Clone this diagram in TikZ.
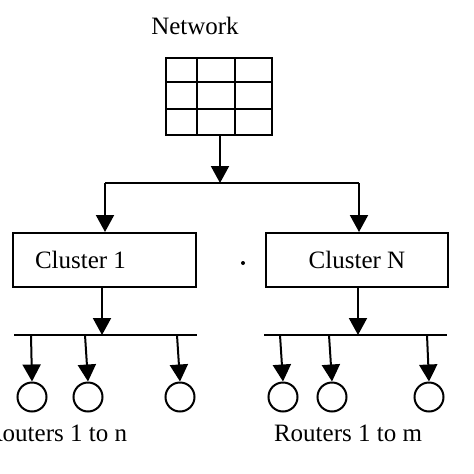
\documentclass[tikz,border=0pt]{standalone}
\usepackage{fontspec}
\setmainfont{Liberation Serif}
\usetikzlibrary{arrows.meta}
\begin{document}
\begin{tikzpicture}[x=1pt,y=-1pt, line width=2pt,
 arr/.style={-{Triangle[width=18pt,length=17pt]}},
 lbl/.style={font=\fontsize{25}{28}\selectfont, inner sep=0pt},
 cbox/.style={draw, minimum height=54pt, inner sep=0pt, font=\fontsize{25}{28}\selectfont},
 router/.style={draw, circle, minimum size=29pt, inner sep=0pt}]
\useasboundingbox (0,0) rectangle (474,474);
% network grid
\node[lbl] (net) at (195,26) {Network};
\node[draw, minimum width=106pt, minimum height=77pt, inner sep=0pt, anchor=north west] (grid) at (165,57) {};
\draw (197,57) -- (197,134) (235,57) -- (235,134) (165,82) -- (271,82) (165,109) -- (271,109);
% split to clusters
\coordinate (split) at (220,183);
\coordinate (tl) at (105,183);
\coordinate (tr) at (359,183);
\draw[arr] (grid.south -| split) -- (split);
\draw (tl) -- (tr);
% clusters
\node[cbox, minimum width=183pt] (c1) at (104.5,260) {Cluster 1\hspace*{48pt}};
\node[cbox, minimum width=182pt] (cN) at (357,260) {Cluster N};
\draw[arr] (tl) -- (c1.north -| tl);
\draw[arr] (tr) -- (cN.north -| tr);
\node[fill, circle, inner sep=0pt, minimum size=4pt] (dot) at (243,263) {};
% buses
\coordinate (b1l) at (14,335);
\coordinate (b1r) at (197,335);
\coordinate (b1m) at (102,335);
\coordinate (b2l) at (264,335);
\coordinate (b2r) at (447,335);
\coordinate (b2m) at (358,335);
\draw (b1l) -- (b1r);
\draw (b2l) -- (b2r);
\draw[arr] (c1.south -| b1m) -- (b1m);
\draw[arr] (cN.south -| b2m) -- (b2m);
% routers
\node[router] (r11) at (32,397) {};
\node[router] (r12) at (88,397) {};
\node[router] (r13) at (180,397) {};
\node[router] (r21) at (283,397) {};
\node[router] (r22) at (332,397) {};
\node[router] (r23) at (429,397) {};
\coordinate (t11) at (31,335);
\coordinate (t12) at (85,335);
\coordinate (t13) at (177,335);
\coordinate (t21) at (280,335);
\coordinate (t22) at (329,335);
\coordinate (t23) at (427,335);
\draw[arr] (t11) -- (r11.north);
\draw[arr] (t12) -- (r12.north);
\draw[arr] (t13) -- (r13.north);
\draw[arr] (t21) -- (r21.north);
\draw[arr] (t22) -- (r22.north);
\draw[arr] (t23) -- (r23.north);
% labels
\node[lbl, anchor=east] (l1) at (128,433) {Routers 1 to n};
\node[lbl] (l2) at (348,433) {Routers 1 to m};
\end{tikzpicture}
\end{document}
